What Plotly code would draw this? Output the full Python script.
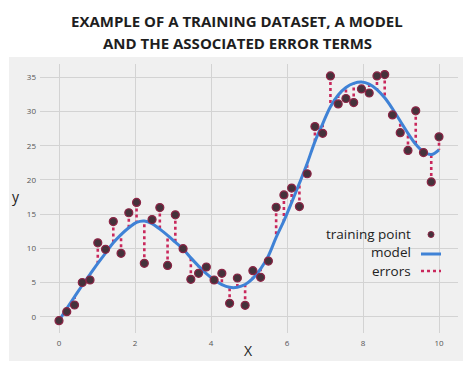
import plotly.graph_objects as go

# ---- data ----
x_vals = [i * 10 / 49 for i in range(50)]
y_points = [-0.58, 0.73, 1.71, 5.0, 5.37, 10.8, 9.85, 13.9, 9.27, 15.2,
            16.7, 7.8, 14.2, 15.95, 7.5, 14.9, 9.94, 5.47, 6.34, 7.27,
            5.37, 6.34, 1.96, 5.66, 1.67, 6.73, 5.76, 8.14, 16.0, 17.8,
            18.8, 16.1, 20.9, 27.8, 26.8, 35.2, 31.1, 31.9, 31.3, 33.3,
            32.7, 35.2, 35.4, 29.5, 26.9, 24.3, 30.1, 24.0, 19.7, 26.3]
y_model = [-0.6, 1.2, 2.9, 4.6, 6.2, 7.8, 9.3, 10.8, 12.0, 13.0,
           13.8, 14.0, 13.6, 12.8, 11.9, 10.9, 9.9, 8.6, 7.4, 6.3,
           5.4, 4.7, 4.3, 4.3, 4.7, 5.6, 7.0, 8.9, 11.6, 14.0,
           16.7, 19.5, 22.4, 25.6, 28.2, 30.7, 32.4, 33.5, 34.1, 34.3,
           34.0, 33.2, 32.0, 30.4, 28.6, 26.8, 25.2, 24.1, 23.7, 24.4]
x_ticks = [0, 2, 4, 6, 8, 10]
y_ticks = [0, 5, 10, 15, 20, 25, 30, 35]
legend_labels = ["training point", "model", "errors"]

BLUE = "#3f82d6"
RED = "#c9285c"
DOT = "#45323b"
DOT_EDGE = "#8c2546"

# error segments
ex, ey = [], []
for xv, yp, ym in zip(x_vals, y_points, y_model):
    ex += [xv, xv, None]
    ey += [yp, ym, None]

fig = go.Figure()
fig.add_trace(go.Scatter(x=ex, y=ey, mode="lines",
                         line=dict(color=RED, width=2.6, dash="dot"),
                         showlegend=False, hoverinfo="skip"))
fig.add_trace(go.Scatter(x=x_vals, y=y_model, mode="lines",
                         line=dict(color=BLUE, width=3, shape="spline"),
                         showlegend=False))
fig.add_trace(go.Scatter(x=x_vals, y=y_points, mode="markers",
                         marker=dict(color=DOT, size=8,
                                     line=dict(color=DOT_EDGE, width=1.2)),
                         showlegend=False))

OFF = 8  # page body margin
W, H = 474 - OFF, 376 - OFF
L, T = 40 - OFF, 64 - OFF
R = W - (458 - OFF)
B = H - (333 - OFF)
pw, ph = W - L - R, H - T - B


def px2paper_x(px):
    return (px - OFF - L) / pw


def px2paper_y(py):
    return 1 - (py - OFF - T) / ph


shapes = [
    dict(type="rect", xref="paper", yref="paper", layer="below",
         x0=px2paper_x(9), x1=px2paper_x(463),
         y0=px2paper_y(361), y1=px2paper_y(57),
         fillcolor="#f0f0f0", line=dict(width=0)),
    dict(type="line", xref="paper", yref="paper",
         x0=px2paper_x(421), x1=px2paper_x(441),
         y0=px2paper_y(254), y1=px2paper_y(254),
         line=dict(color=BLUE, width=3)),
    dict(type="line", xref="paper", yref="paper",
         x0=px2paper_x(421), x1=px2paper_x(441),
         y0=px2paper_y(271), y1=px2paper_y(271),
         line=dict(color=RED, width=2.6, dash="dot")),
    dict(type="circle", xref="paper", yref="paper",
         x0=px2paper_x(428), x1=px2paper_x(434),
         y0=px2paper_y(237.5), y1=px2paper_y(231.5),
         fillcolor=DOT, line=dict(color=DOT_EDGE, width=1)),
]


def ann(text, x, y, size, xanchor="center", weight="normal", color="#222"):
    return dict(text=text, xref="paper", yref="paper",
                x=px2paper_x(x), y=px2paper_y(y), showarrow=False,
                xanchor=xanchor, yanchor="middle",
                font=dict(family="Open Sans", size=size, color=color, weight=weight))


annotations = [
    ann("EXAMPLE OF A TRAINING DATASET, A MODEL", 237, 21, 15, weight="bold", color="#1e1e1e"),
    ann("AND THE ASSOCIATED ERROR TERMS", 237, 43, 15, weight="bold", color="#1e1e1e"),
    ann("y", 16, 196, 14),
    ann("X", 248, 350, 14),
]
for lab, yy in zip(legend_labels, [233.5, 252, 270.5]):
    annotations.append(ann(lab, 413, yy, 13.5, xanchor="right"))

axis_common = dict(showgrid=True, gridcolor="#d3d3d3", gridwidth=1.3,
                   zeroline=False, showline=False, ticks="",
                   tickfont=dict(family="Open Sans", size=8, color="#555"))

fig.update_layout(
    width=W, height=H,
    margin=dict(l=L, r=R, t=T, b=B),
    paper_bgcolor="white", plot_bgcolor="#f0f0f0",
    xaxis=dict(range=[-0.5, 10.5], tickvals=x_ticks, ticklabelstandoff=4, **axis_common),
    yaxis=dict(range=[-2.38, 36.94], tickvals=y_ticks, ticklabelstandoff=3, **axis_common),
    shapes=shapes, annotations=annotations, showlegend=False,
)

fig.write_html("out.html")
